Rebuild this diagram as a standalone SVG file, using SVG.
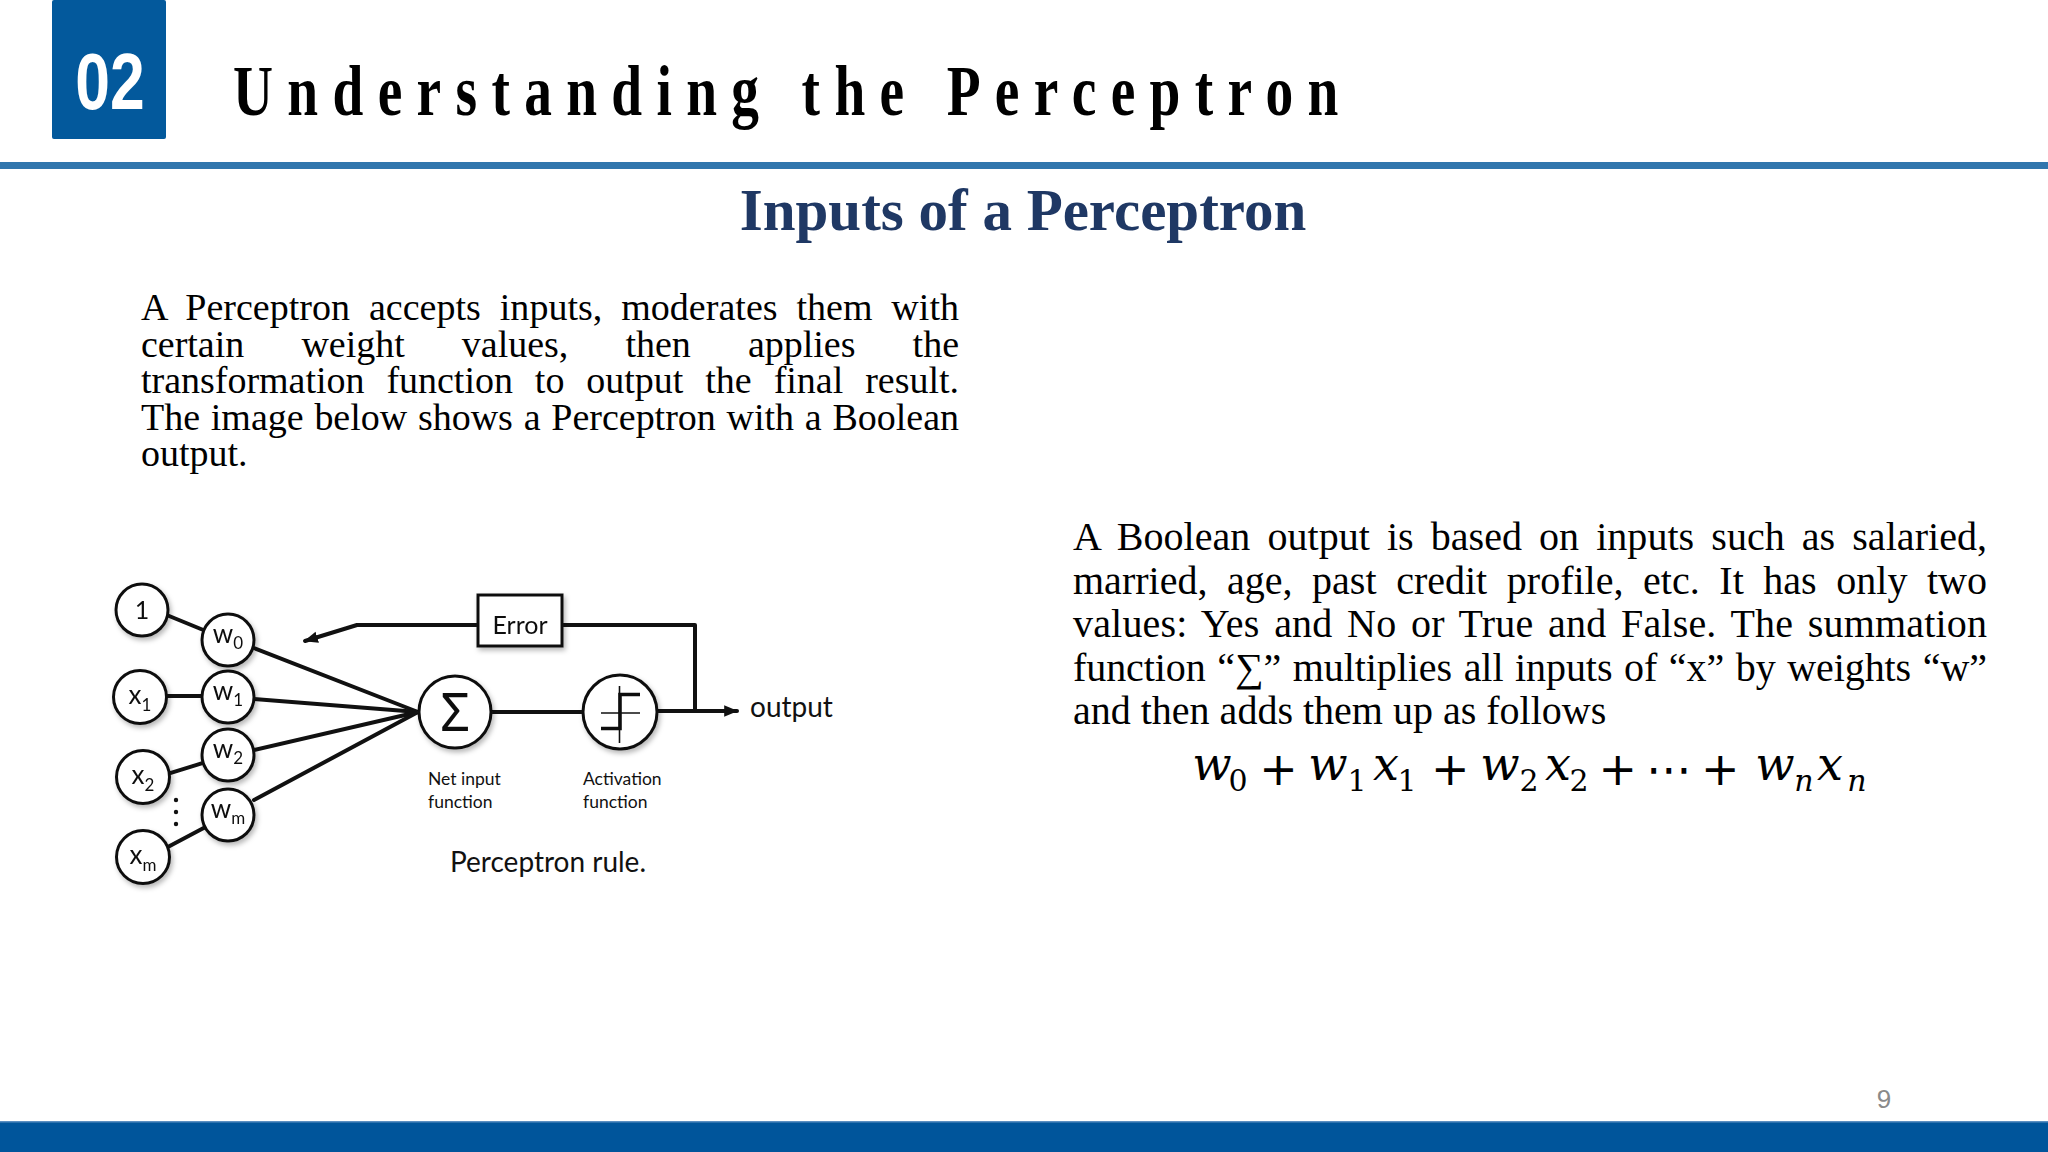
<svg xmlns="http://www.w3.org/2000/svg" width="2048" height="1152" viewBox="0 0 2048 1152">
<defs>
<style>
.lp{font-family:"Liberation Serif","Times New Roman",serif;font-size:38px;fill:#000}
.rp{font-family:"Liberation Serif","Times New Roman",serif;font-size:40px;fill:#000}
.node{fill:#fff;stroke:#111;stroke-width:3}
.lbl{font-family:Lato,"Open Sans","Liberation Sans",sans-serif;fill:#111}
.wire{stroke:#111;stroke-width:4;fill:none;stroke-linecap:round;stroke-linejoin:round}
.thin{stroke:#111;stroke-width:1.6;fill:none}
.step{stroke:#111;stroke-width:3.6;fill:none}
.mi{font-family:"DejaVu Serif",serif;font-style:italic;font-size:46px}
.sub{font-family:"DejaVu Serif",serif;font-size:30px}
.op{font-family:"DejaVu Sans",sans-serif;font-size:46px}
</style>
<filter id="sh" x="-30%" y="-30%" width="160%" height="160%">
<feDropShadow dx="2" dy="3" stdDeviation="2.5" flood-color="#000" flood-opacity="0.28"/>
</filter>
<marker id="ah" viewBox="0 0 12 10" refX="11" refY="5" markerUnits="userSpaceOnUse" markerWidth="14" markerHeight="12" orient="auto">
<path d="M0,0 L12,5 L0,10 Z" fill="#111"/>
</marker>
</defs>
<rect width="2048" height="1152" fill="#fff"/>

<g id="header">
<rect x="52" y="0" width="114" height="139" rx="2" fill="#03599c"/>
<text transform="translate(110,109) scale(0.78,1)" text-anchor="middle" font-family="Liberation Sans, Arial, sans-serif" font-weight="bold" font-size="80" fill="#fff">02</text>
<text transform="translate(233,115) scale(0.78,1)" x="0" y="0" textLength="1417" lengthAdjust="spacing" font-family="Liberation Serif, Times New Roman, serif" font-weight="bold" font-size="71" fill="#000">Understanding the Perceptron</text>
<rect x="0" y="162" width="2048" height="7" fill="#3176ad"/>
<text x="1023" y="230" text-anchor="middle" font-family="Liberation Serif, Times New Roman, serif" font-weight="bold" font-size="59" fill="#1f3864">Inputs of a Perceptron</text>
</g>

<g id="left-text">
<text class="lp" x="141" y="320" word-spacing="9.3" textLength="818" lengthAdjust="spacing">A Perceptron accepts inputs, moderates them with</text>
<text class="lp" x="141" y="356.6" word-spacing="47.7" textLength="818" lengthAdjust="spacing">certain weight values, then applies the</text>
<text class="lp" x="141" y="393.2" word-spacing="12.5" textLength="818" lengthAdjust="spacing">transformation function to output the final result.</text>
<text class="lp" x="141" y="429.8" word-spacing="1.3" textLength="818" lengthAdjust="spacing">The image below shows a Perceptron with a Boolean</text>
<text class="lp" x="141" y="466.4">output.</text>
</g>

<g id="right-text">
<text class="rp" x="1073" y="550" word-spacing="7" textLength="914" lengthAdjust="spacing">A Boolean output is based on inputs such as salaried,</text>
<text class="rp" x="1073" y="593.6" word-spacing="9.6" textLength="914" lengthAdjust="spacing">married, age, past credit profile, etc. It has only two</text>
<text class="rp" x="1073" y="637.2" word-spacing="4.5" textLength="914" lengthAdjust="spacing">values: Yes and No or True and False. The summation</text>
<text class="rp" x="1073" y="680.8" word-spacing="1.7" textLength="914" lengthAdjust="spacing">function “∑” multiplies all inputs of “x” by weights “w”</text>
<text class="rp" x="1073" y="724.4">and then adds them up as follows</text>
</g>

<g id="formula" text-anchor="middle" fill="#000">
<text>
<tspan class="mi" x="1212" y="780">w</tspan><tspan class="sub" x="1240" y="791">0</tspan>
<tspan class="op" x="1280.5" y="785">+</tspan>
<tspan class="mi" x="1328" y="780">w</tspan><tspan class="sub" x="1357" y="791">1</tspan><tspan class="mi" x="1386" y="780">x</tspan><tspan class="sub" x="1409" y="791">1</tspan>
<tspan class="op" x="1452.3" y="785">+</tspan>
<tspan class="mi" x="1500" y="780">w</tspan><tspan class="sub" x="1529" y="791">2</tspan><tspan class="mi" x="1558" y="780">x</tspan><tspan class="sub" x="1581" y="791">2</tspan>
<tspan class="op" x="1619.8" y="785">+</tspan>
<tspan class="op" x="1671" y="785">⋯</tspan>
<tspan class="op" x="1722.3" y="785">+</tspan>
<tspan class="mi" x="1775" y="780">w</tspan><tspan class="sub" font-style="italic" x="1804" y="791">n</tspan><tspan class="mi" x="1830" y="780">x</tspan><tspan class="sub" font-style="italic" x="1857" y="791">n</tspan>
</text>
</g>

<g id="connectors">
<line class="wire" x1="166.7" y1="615" x2="203.3" y2="630"/>
<line class="wire" x1="166.7" y1="696" x2="203" y2="696"/>
<line class="wire" x1="169.3" y1="773.3" x2="204" y2="762.7"/>
<line class="wire" x1="168.3" y1="846.7" x2="206" y2="826.7"/>
<line class="wire" x1="254" y1="648" x2="418" y2="712"/>
<line class="wire" x1="254" y1="699" x2="418" y2="712"/>
<line class="wire" x1="254" y1="750" x2="418" y2="712"/>
<line class="wire" x1="254" y1="800" x2="418" y2="712"/>
<line class="wire" x1="491" y1="712" x2="583" y2="712"/>
<polyline class="wire" points="562,625 695,625 695,711"/>
<line class="wire" x1="657" y1="711" x2="737" y2="711" marker-end="url(#ah)"/>
<polyline class="wire" stroke-width="3.5" points="477,625 357,625 305,641" marker-end="url(#ah)"/>
</g>

<g id="node-1" filter="url(#sh)"><circle class="node" cx="142" cy="610" r="26"/><text class="lbl" x="142" y="619" text-anchor="middle" font-size="25">1</text></g>
<g id="node-x1" filter="url(#sh)"><circle class="node" cx="140" cy="697" r="26.5"/><text class="lbl" x="140" y="704" text-anchor="middle" font-size="26">x<tspan font-size="17" dy="7">1</tspan></text></g>
<g id="node-x2" filter="url(#sh)"><circle class="node" cx="143" cy="777" r="26.5"/><text class="lbl" x="143" y="784" text-anchor="middle" font-size="26">x<tspan font-size="17" dy="7">2</tspan></text></g>
<g id="node-xm" filter="url(#sh)"><circle class="node" cx="143" cy="857" r="26.5"/><text class="lbl" x="143" y="864" text-anchor="middle" font-size="26">x<tspan font-size="17" dy="7">m</tspan></text></g>
<g id="dots"><circle cx="176" cy="800" r="2.2" fill="#111"/><circle cx="176" cy="812" r="2.2" fill="#111"/><circle cx="176" cy="824" r="2.2" fill="#111"/></g>
<g id="node-w0" filter="url(#sh)"><circle class="node" cx="228" cy="640" r="26"/><text class="lbl" x="228" y="643" text-anchor="middle" font-size="26">w<tspan font-size="17" dy="6">0</tspan></text></g>
<g id="node-w1" filter="url(#sh)"><circle class="node" cx="228" cy="697" r="26"/><text class="lbl" x="228" y="700" text-anchor="middle" font-size="26">w<tspan font-size="17" dy="6">1</tspan></text></g>
<g id="node-w2" filter="url(#sh)"><circle class="node" cx="228" cy="755" r="26"/><text class="lbl" x="228" y="758" text-anchor="middle" font-size="26">w<tspan font-size="17" dy="6">2</tspan></text></g>
<g id="node-wm" filter="url(#sh)"><circle class="node" cx="228" cy="815" r="26"/><text class="lbl" x="228" y="818" text-anchor="middle" font-size="26">w<tspan font-size="17" dy="6">m</tspan></text></g>

<g id="node-sum" filter="url(#sh)"><circle class="node" cx="455" cy="712" r="36"/><text x="455" y="731" text-anchor="middle" font-family="Noto Sans, DejaVu Sans, sans-serif" font-size="52" fill="#111">Σ</text></g>
<g id="node-activation" filter="url(#sh)"><circle class="node" cx="620" cy="712" r="37"/>
<line class="thin" x1="619.5" y1="686" x2="619.5" y2="743"/>
<line class="thin" x1="601" y1="713" x2="640" y2="713"/>
<polyline class="step" points="640,694.5 620,694.5 620,728.5 601,728.5"/>
</g>
<g id="node-error" filter="url(#sh)"><rect x="478" y="595" width="84" height="51" fill="#fff" stroke="#111" stroke-width="3"/><text class="lbl" x="520" y="634" text-anchor="middle" font-size="25">Error</text></g>

<g id="diagram-labels" class="lbl">
<text x="750" y="717" font-size="28">output</text>
<text x="428" y="785" font-size="17.5">Net input</text>
<text x="428" y="808" font-size="17.5">function</text>
<text x="583" y="785" font-size="17.5">Activation</text>
<text x="583" y="808" font-size="17.5">function</text>
<text x="450" y="872" font-size="28">Perceptron rule.</text>
</g>

<g id="footer">
<text x="1884" y="1108" text-anchor="middle" font-family="Liberation Sans, Arial, sans-serif" font-size="26" fill="#8a8a8a">9</text>
<rect x="0" y="1122" width="2048" height="30" fill="#00559b"/>
<rect x="0" y="1121" width="2048" height="1.5" fill="#5b8fc2"/>
</g>
</svg>
